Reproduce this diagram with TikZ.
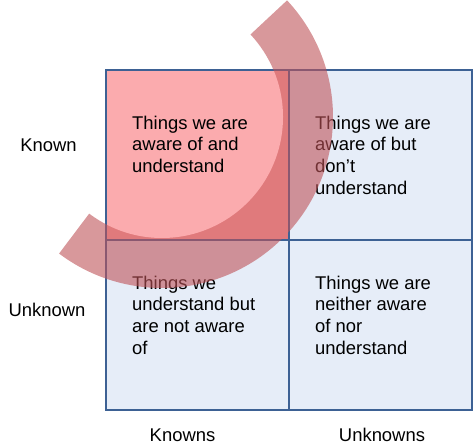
\documentclass[tikz,border=0pt]{standalone}
\usepackage{fontspec}
\setmainfont{Liberation Sans}
\usetikzlibrary{calc}
\definecolor{gridblue}{HTML}{3D6194}
\definecolor{cellfill}{HTML}{E6EDF8}
\definecolor{darkpink}{HTML}{E07A7C}
\definecolor{lightpink}{HTML}{FBABAE}
\definecolor{bandred}{HTML}{BE5358}
\begin{document}
\begin{tikzpicture}[x=1bp,y=1bp,
  cell/.style={draw=gridblue, line width=2.4bp, fill=cellfill, minimum width=183bp, minimum height=170bp, inner sep=0pt, outer sep=0pt},
  celltext/.style={anchor=north west, inner sep=0pt, align=left, font=\fontsize{18.5}{22}\selectfont},
  axislabel/.style={anchor=base, inner sep=0pt, font=\fontsize{18.5}{22}\selectfont},
  band/.style={fill=bandred, fill opacity=0.6}]
\useasboundingbox (0,0) rectangle (474,448);
% cells
\node[cell] (tl) at (197.5,293) {};
\node[cell] (tr) at (380.5,293) {};
\node[cell] (bl) at (197.5,123) {};
\node[cell] (br) at (380.5,123) {};
% texts under the band
\node[celltext] (ttr) at (315,332.5) {Things we are\\aware of but\\don’t\\understand};
\node[celltext] (tbl) at (132,172.5) {Things we\\understand but\\are not aware\\of};
\node[celltext] (tbr) at (315,172.5) {Things we are\\neither aware\\of nor\\understand};
% band
\coordinate (ctr) at (162,331);
\path[band] ($(ctr)+(43:171)$) arc[start angle=43, end angle=-127, radius=171]
  -- ($(ctr)+(-127:121)$) arc[start angle=-127, end angle=43, radius=121] -- cycle;
% top-left cell interior
\begin{scope}
  \clip ([shift={(1.2,1.2)}]tl.south west) rectangle ([shift={(-1.2,-1.2)}]tl.north east);
  \fill[darkpink] (tl.south west) rectangle (tl.north east);
  \fill[lightpink] (ctr) circle[radius=121];
\end{scope}
\node[celltext] (ttl) at (132,332.5) {Things we are\\aware of and\\understand};
% axis labels
\node[axislabel] (known) at (48.5,296) {Known};
\node[axislabel] (unknown) at (47,131) {Unknown};
\node[axislabel] (knowns) at (182.5,6) {Knowns};
\node[axislabel] (unknowns) at (382,6) {Unknowns};
\end{tikzpicture}
\end{document}
